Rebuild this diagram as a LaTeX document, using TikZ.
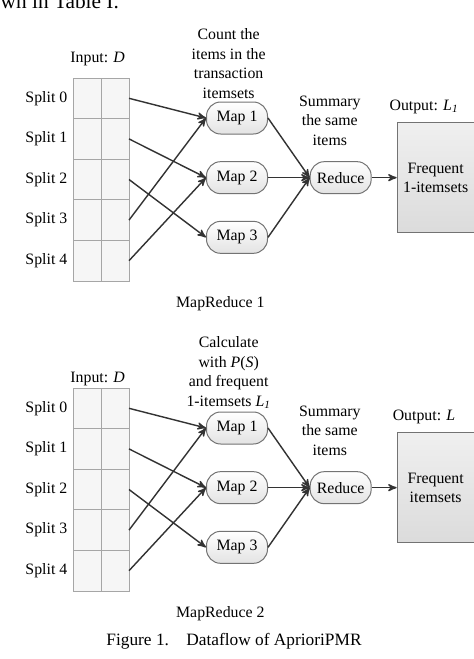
\documentclass[tikz,border=0pt]{standalone}
\usepackage{fontspec}
\setmainfont{Liberation Serif}
\usetikzlibrary{arrows,positioning}
% one MapReduce stage: prefix, offset, input gap, map task, output label, output text, stage name
\def\flow#1#2#3#4#5#6#7{%
  \foreach \i in {0,...,4}{%
    \node[cell] (#1a\i) at (87,#2+98.3+40.6*\i) {};
    \node[cell,right=0pt of #1a\i] (#1b\i) {};
    \node[left=3pt of #1a\i,inner sep=0pt] (#1s\i) {Split \i};
  }
  \node[note,above=#3 of #1a0.north east,xshift=-2pt] (#1in) {Input: \textit{D}};
  \node[map node] (#1m1) at (237,#2+118) {Map 1};
  \node[map node,below=of #1m1] (#1m2) {Map 2};
  \node[map node,below=of #1m2] (#1m3) {Map 3};
  \node[map node,right=25pt of #1m2] (#1r) {Reduce};
  \node[out node,right=15pt of #1r] (#1o) {#6};
  \node[note,above=0.5pt of #1m1,xshift=-5pt] (#1t) {#4};
  \node[note,above=8pt of #1r,xshift=-6.5pt] (#1sum) {Summary\\the same\\items};
  \node[note,above=3.6pt of #1o,xshift=-7pt] (#1ol) {#5};
  \node[note,below=24pt of #1m3,xshift=-10pt] (#1p) {#7};
  \foreach \s/\m in {0/1,1/2,2/3,3/1,4/2}
    \draw[black!80] (#1b\s.east) -- (#1m\m.west);
  \foreach \m in {1,2,3}
    \draw[black!80] (#1m\m.east) -- (#1r.west);
  \draw[black!80] (#1r.east) -- (#1r.east -| #1o.west);
}
\begin{document}
\begin{tikzpicture}[->,>=stealth',x=0.6pt,y=-0.6pt,line width=0.85pt,node distance=16pt,
    font=\fontsize{9.5}{11.7}\selectfont,
    cell/.style={draw=gray!70,line width=0.5pt,fill=gray!7,minimum width=16.8pt,
      minimum height=24.4pt,inner sep=0pt,outer sep=0pt},
    map node/.style={draw=black!55,line width=0.6pt,rounded corners=8.5pt,top color=white,
      bottom color=gray!22,minimum width=36.6pt,minimum height=19.2pt,inner sep=1pt},
    out node/.style={draw=black!55,line width=0.6pt,top color=gray!12,bottom color=gray!28,
      minimum width=46.2pt,minimum height=66pt,align=center},
    note/.style={align=center,inner sep=1pt}]
  \useasboundingbox (0,0) rectangle (474,659);
  \node[anchor=base west,inner sep=0pt,font=\fontsize{12.8}{15}\selectfont] (head) at (0,8) {wn in Table I.};

  \flow{t}{0}{6pt}{Count the\\items in the\\transaction\\itemsets}
    {Output: \textit{L}\textsubscript{\textit{1}}}{Frequent\\1-itemsets}{MapReduce 1}
  \flow{b}{310}{0pt}{Calculate\\with \textit{P}(\textit{S})\\and frequent\\1-itemsets \textit{L}\textsubscript{\textit{1}}}
    {Output: \textit{L}}{Frequent\\itemsets}{MapReduce 2}

  \node[anchor=base,inner sep=0pt,font=\fontsize{10.4}{12}\selectfont] (cap) at (234,645)
    {Figure 1.\quad Dataflow of AprioriPMR};
\end{tikzpicture}
\end{document}
